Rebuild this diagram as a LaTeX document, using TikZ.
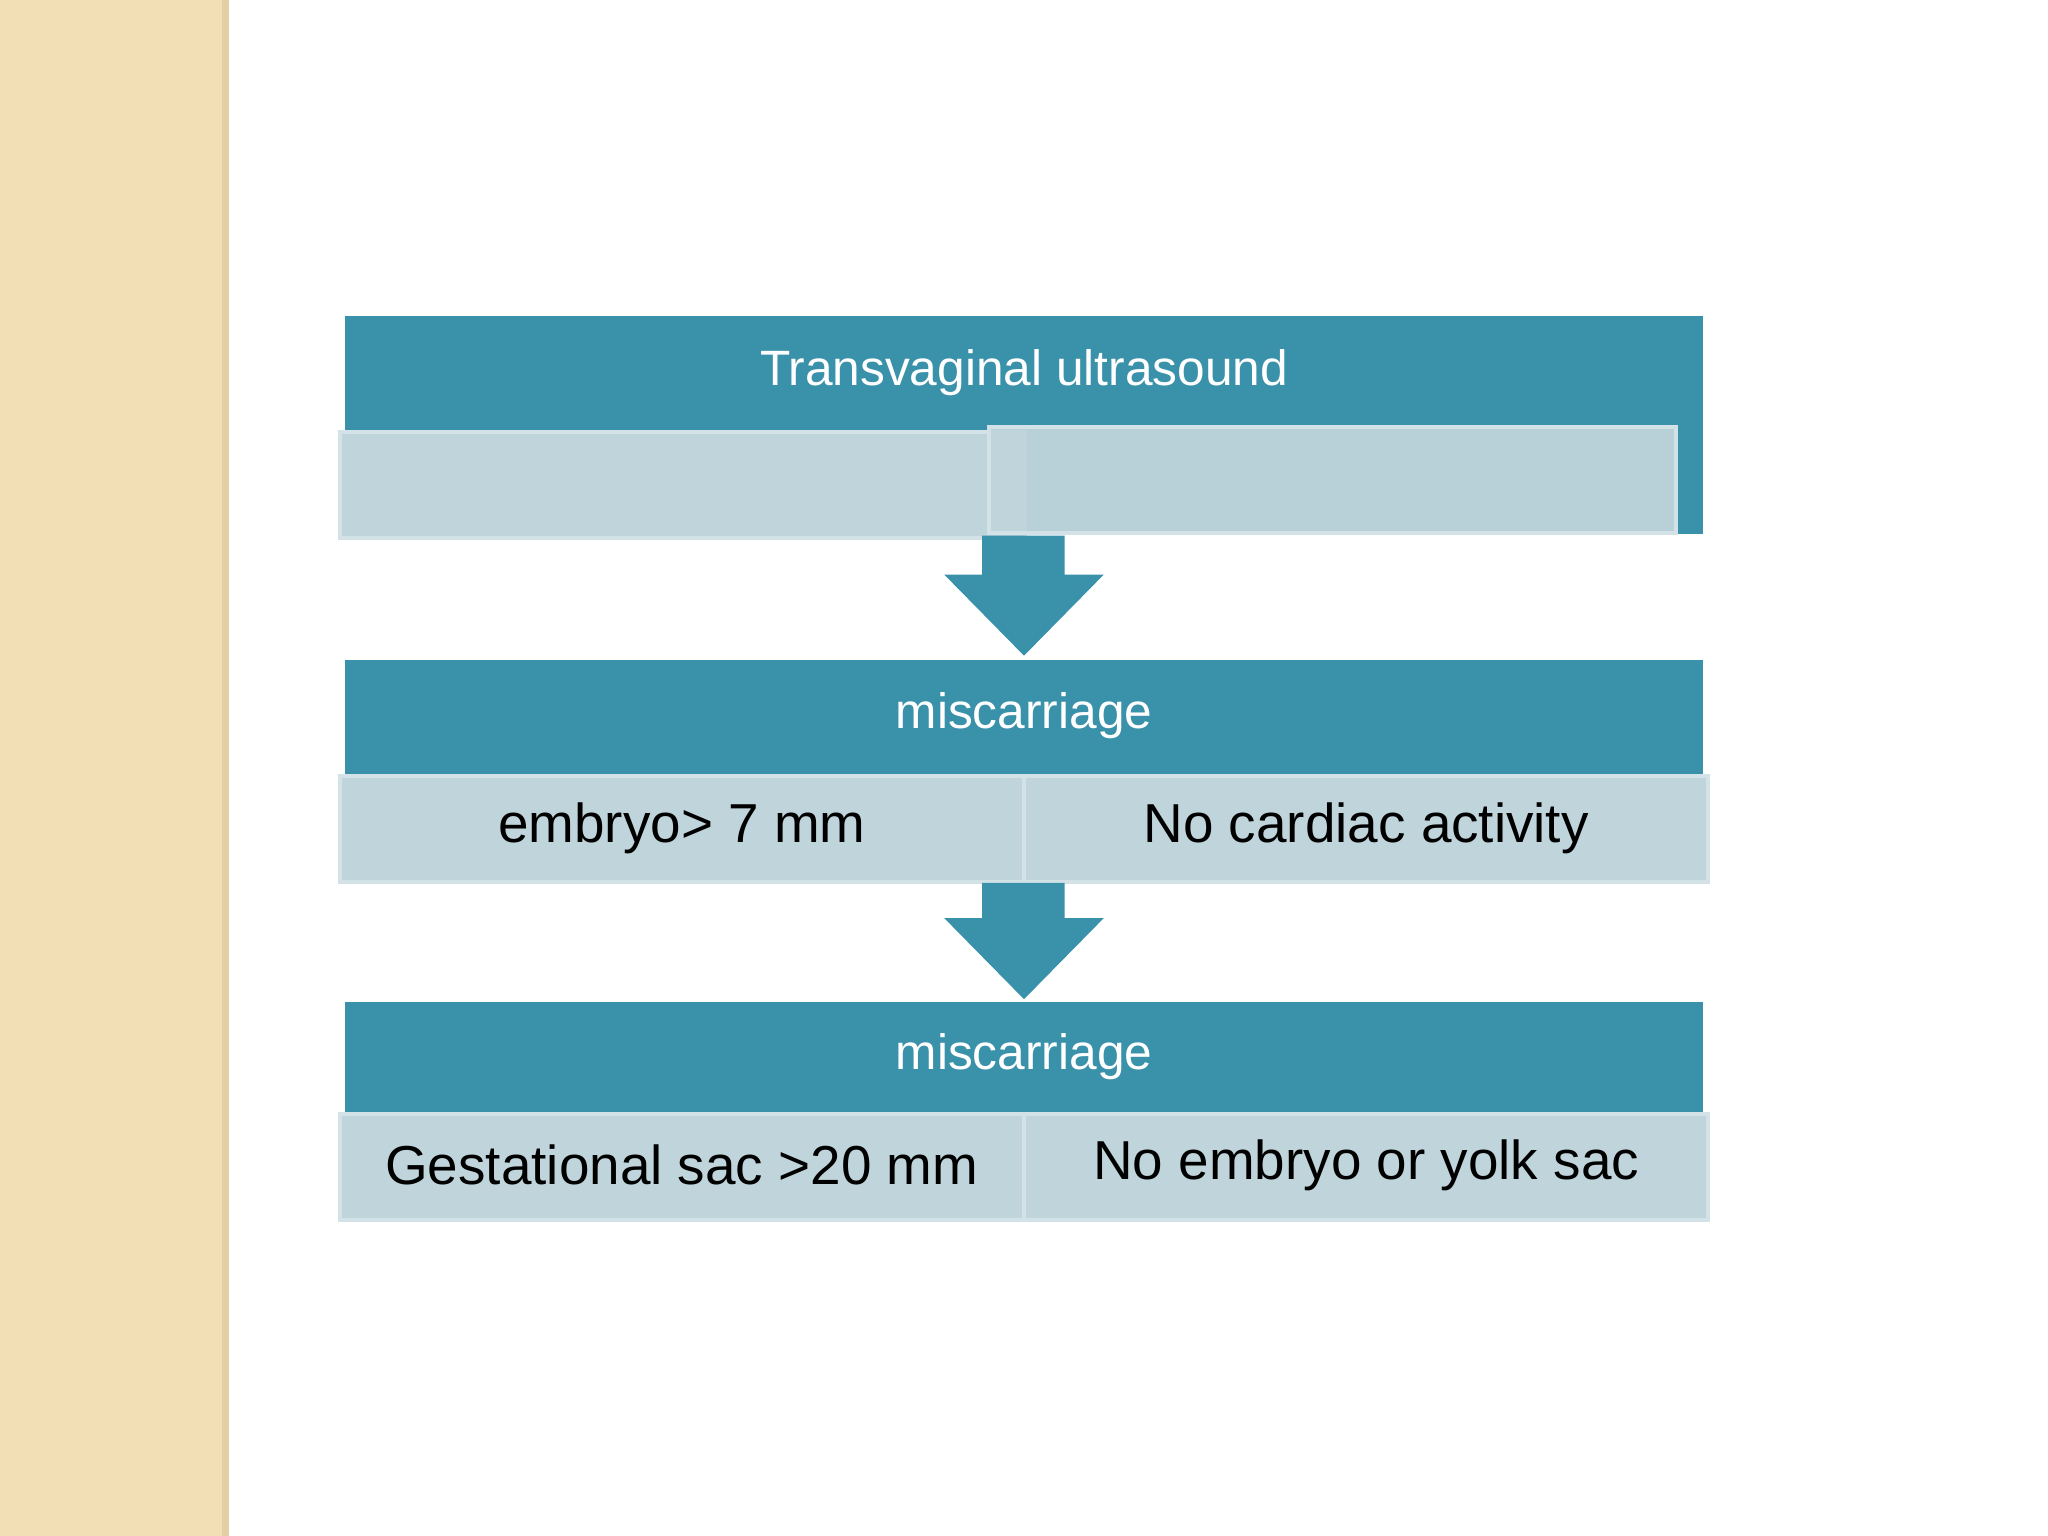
\documentclass[tikz,border=0pt]{standalone}
\usepackage{fontspec}
\setmainfont{Liberation Sans}
\definecolor{teal}{HTML}{3A91AA}
\definecolor{pale}{HTML}{BFD5DB}
\definecolor{paleedge}{HTML}{D2E2E6}
\definecolor{beige}{HTML}{F3DFB5}
\definecolor{beigeedge}{HTML}{E2CFA3}
\begin{document}
\begin{tikzpicture}[x=0.5pt,y=-0.5pt,
  head/.style={fill=teal,draw=none},
  cell/.style={fill=pale,draw=paleedge,line width=1.5pt},
  htxt/.style={text=white,font=\fontsize{19}{22}\selectfont},
  ctxt/.style={text=black,font=\fontsize{21}{24}\selectfont},
  arr/.style={fill=teal,draw=none}]
\useasboundingbox (0,0) rectangle (1568,1176);
\fill[white] (0,0) rectangle (1568,1176);
\fill[beige] (0,0) rectangle (173,1176);
\fill[beigeedge] (170,0) rectangle (175,1176);
% block 1
\fill[head] (264,242) rectangle (1304,409);
\node[htxt] (h1) at (784,285) {Transvaginal ultrasound};
\draw[cell] (260,331) rectangle (785,412);
\draw[cell,fill opacity=0.95] (757,327) rectangle (1283,408);
\coordinate (b1) at (784,410);
% arrow 1
\fill[arr] (752,410) -- (815,410) -- (815,440) -- (845,440) -- (784,502) -- (723,440) -- (752,440) -- cycle;
% block 2
\fill[head] (264,505) rectangle (1304,593);
\node[htxt] (h2) at (784,548) {miscarriage};
\draw[cell] (260,594) rectangle (784,675);
\draw[cell] (784,594) rectangle (1308,675);
\node[ctxt] (c21) at (522,634) {embryo> 7 mm};
\node[ctxt] (c22) at (1046,634) {No cardiac activity};
% arrow 2
\fill[arr] (752,676) -- (815,676) -- (815,703) -- (845,703) -- (784,765) -- (723,703) -- (752,703) -- cycle;
% block 3
\fill[head] (264,767) rectangle (1304,852);
\node[htxt] (h3) at (784,809) {miscarriage};
\draw[cell] (260,853) rectangle (784,934);
\draw[cell] (784,853) rectangle (1308,934);
\node[ctxt] (c31) at (522,892) {Gestational sac >20 mm};
\node[ctxt] (c32) at (1046,892) {No embryo or yolk sac};
\end{tikzpicture}
\end{document}
